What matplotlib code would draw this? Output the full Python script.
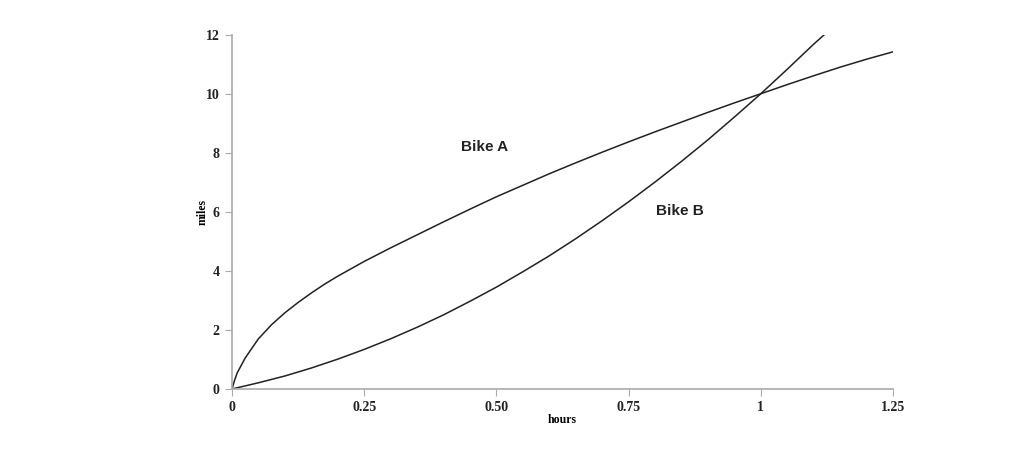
import matplotlib
matplotlib.use("Agg")
import matplotlib.pyplot as plt

# Bike A: distance (miles) vs time (hours)
hours_a = [0, 0.005, 0.01, 0.025, 0.05, 0.075, 0.1, 0.125, 0.15, 0.175, 0.2, 0.25, 0.3,
           0.35, 0.4, 0.45, 0.5, 0.55, 0.6, 0.65, 0.7, 0.75, 0.8, 0.85, 0.9, 0.95, 1.0,
           1.05, 1.1, 1.15, 1.2, 1.25]
miles_a = [0, 0.30, 0.55, 1.05, 1.70, 2.18, 2.58, 2.93, 3.25, 3.55, 3.82, 4.32, 4.78,
           5.22, 5.66, 6.09, 6.51, 6.90, 7.29, 7.66, 8.02, 8.37, 8.71, 9.04, 9.37, 9.69, 10.0,
           10.31, 10.61, 10.90, 11.17, 11.42]

# Bike B
hours_b = [0, 0.05, 0.1, 0.15, 0.2, 0.25, 0.3, 0.35, 0.4, 0.45, 0.5, 0.55, 0.6, 0.65,
           0.7, 0.75, 0.8, 0.85, 0.9, 0.95, 1.0, 1.05, 1.1, 1.12]
miles_b = [0, 0.21, 0.44, 0.71, 1.01, 1.34, 1.70, 2.09, 2.51, 2.97, 3.45, 3.97, 4.51, 5.09,
           5.70, 6.34, 7.01, 7.71, 8.44, 9.21, 10.0, 10.83, 11.68, 12.0]

x_ticks = [0, 0.25, 0.5, 0.75, 1.0, 1.25]
x_tick_labels = ["0", "0.25", "0.50", "0.75", "1", "1.25"]
y_ticks = [0, 2, 4, 6, 8, 10, 12]

fig = plt.figure(figsize=(10.26, 4.5), dpi=100)
ax = fig.add_axes([0.2261, 0.1356, 0.6443, 0.7873])

ax.plot(hours_a, miles_a, color="#222222", linewidth=1.1)
ax.plot(hours_b, miles_b, color="#222222", linewidth=1.1)

ax.text(0.477, 8.2, "Bike A", fontsize=11, fontweight="bold", family="Liberation Sans",
        ha="center", va="center", color="#222222")
ax.text(0.847, 6.03, "Bike B", fontsize=11, fontweight="bold", family="Liberation Sans",
        ha="center", va="center", color="#222222")

ax.set_xlim(0, 1.25)
ax.set_ylim(0, 12)
ax.set_xticks(x_ticks)
ax.set_xticklabels(x_tick_labels)
ax.set_yticks(y_ticks)

for side in ["top", "right"]:
    ax.spines[side].set_visible(False)
for side in ["left", "bottom"]:
    ax.spines[side].set_color("#aaaaaa")
    ax.spines[side].set_linewidth(1.2)

ax.tick_params(axis="both", length=5, width=0.8, color="#aaaaaa", pad=4)
for lbl in ax.get_xticklabels() + ax.get_yticklabels():
    lbl.set_family("Liberation Serif")
    lbl.set_fontweight("bold")
    lbl.set_fontsize(10)
    lbl.set_color("#222222")

ax.set_xlabel("hours", family="Liberation Serif", fontweight="bold", fontsize=8.5, labelpad=0)
ax.set_ylabel("miles", family="Liberation Serif", fontweight="bold", fontsize=8.5, labelpad=-2)

plt.savefig("out.png", dpi=100)
plt.close()
